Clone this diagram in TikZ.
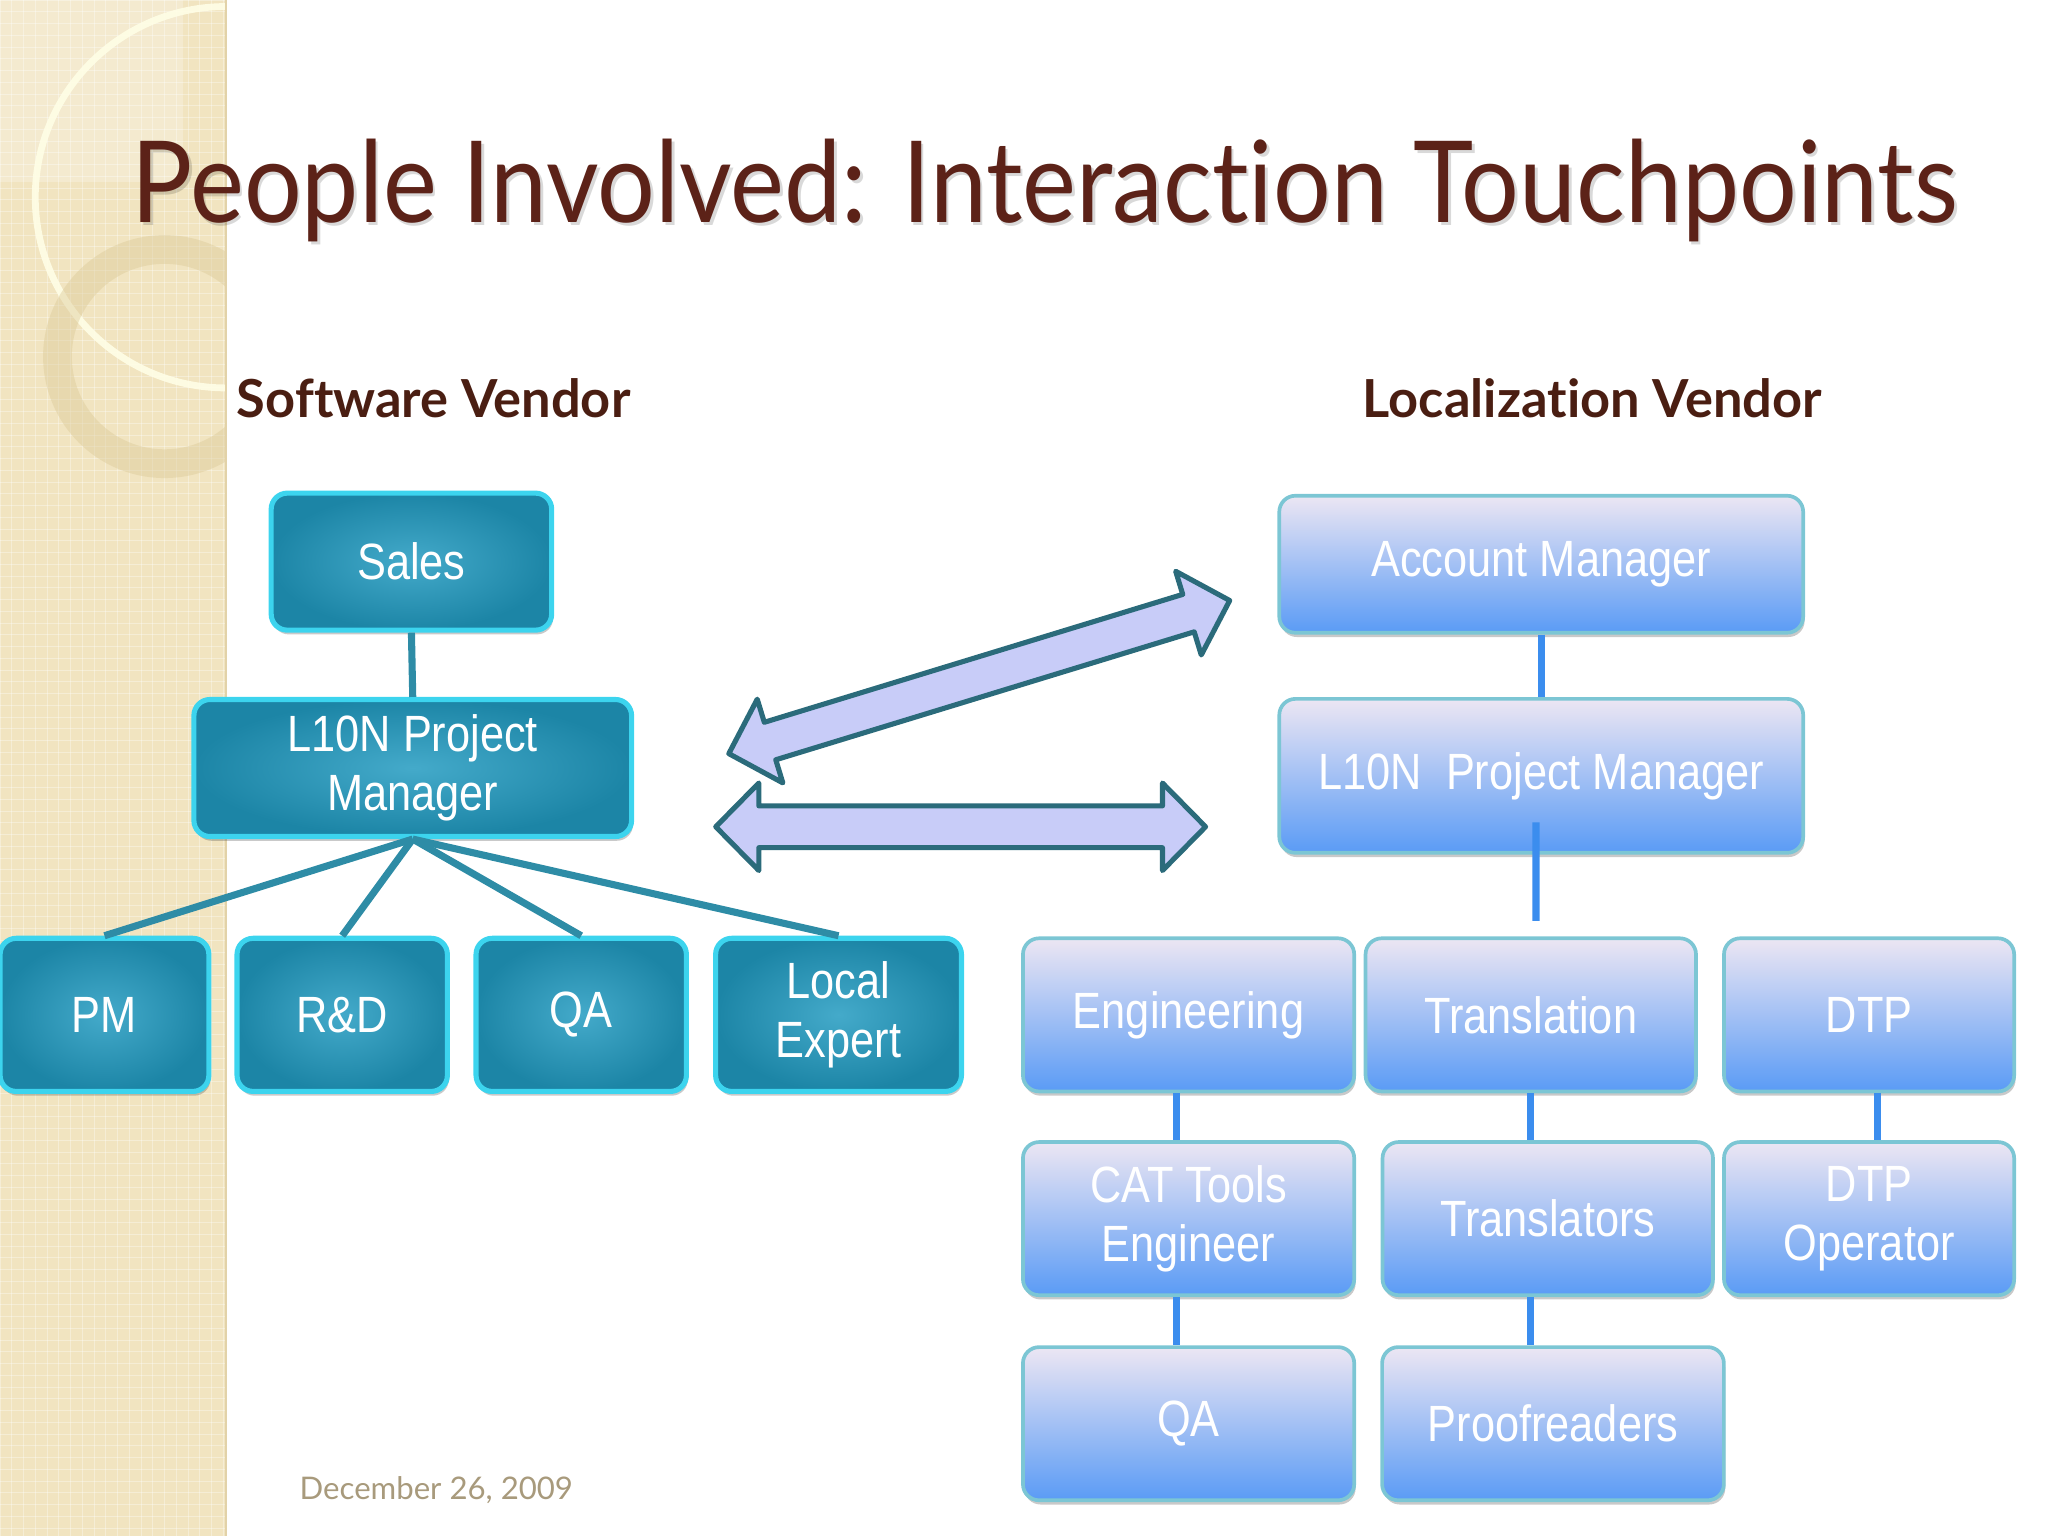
\documentclass[tikz,border=0pt]{standalone}
\usepackage{fontspec}
\setmainfont[Ligatures=NoCommon]{Lato}
\newfontfamily\titlefont[FakeStretch=0.9, Ligatures=NoCommon]{Lato}
\newfontfamily\boxfont[FakeStretch=0.85]{Liberation Sans}
\usetikzlibrary{shapes,arrows.meta,positioning,shadows}

\definecolor{titlebrown}{HTML}{5C2218}
\definecolor{headbrown}{HTML}{4A1E12}
\definecolor{stripbeige}{HTML}{F1E4C0}
\definecolor{stripedge}{HTML}{E2D2A8}
\definecolor{ringtan}{HTML}{DCCB9A}
\definecolor{tealin}{HTML}{44AACA}
\definecolor{tealout}{HTML}{1C85A6}
\definecolor{tealrim}{HTML}{3CD4EE}
\definecolor{tealline}{HTML}{2E8CA6}
\definecolor{bluetop}{HTML}{ECE6F3}
\definecolor{bluemid}{HTML}{94C4F6}
\definecolor{bluebot}{HTML}{5A9BF5}
\definecolor{bluerim}{HTML}{7CC6D4}
\definecolor{blueline}{HTML}{3B8DEE}
\definecolor{arrfill}{HTML}{C8CCF8}
\definecolor{arrdraw}{HTML}{2B6B7B}
\definecolor{datecol}{HTML}{A89A7C}

\tikzset{
  boxshadow/.style={drop shadow={shadow xshift=0.5pt, shadow yshift=-1.5pt, opacity=0.3, fill=black!70}},
  tealbox/.style={rectangle, rounded corners=0.2cm, inner color=tealin, outer color=tealout,
    draw=tealrim, line width=1.8pt, text=white, align=center, boxshadow,
    font=\boxfont\fontsize{18}{21}\selectfont},
  bluebox/.style={rectangle, rounded corners=0.2cm, top color=bluetop, middle color=bluemid,
    bottom color=bluebot, draw=bluerim, line width=1.3pt, text=white, align=center, boxshadow,
    font=\boxfont\fontsize{18}{21}\selectfont},
  tline/.style={draw=tealline, line width=2.5pt},
  bline/.style={draw=blueline, line width=2.5pt},
  blockarr/.style={fill=arrfill, draw=arrdraw, line width=1.8pt, line join=round},
  head/.style={font=\bfseries\fontsize{18.5}{22}\selectfont, text=headbrown, inner sep=0pt}
}

\begin{document}
\begin{tikzpicture}[x=0.0162cm, y=-0.0162cm]
\useasboundingbox (0,0) rectangle (1568,1176);

% Beige strip on the left
\fill[stripbeige] (0,0) rectangle (173,1176);
\foreach \k in {0,9,...,1176} {
  \draw[white, opacity=0.35, line width=0.3pt] (0,\k) -- (173,\k);
}
\foreach \k in {0,9,...,171} {
  \draw[white, opacity=0.35, line width=0.3pt] (\k,0) -- (\k,1176);
}
\begin{scope}
  \clip (0,0) rectangle (173,1176);
  \fill[white, opacity=0.25] (0,0) rectangle (140,139);
  \draw[white!90!yellow, line width=2.4pt, opacity=0.9] (173,151) circle (146);
  \fill[ringtan, opacity=0.45, even odd rule] (126,273) circle (93) (126,273) circle (71);
\end{scope}
\draw[stripedge, line width=1pt] (173,0) -- (173,1176);

% Title
\node[anchor=base, text=black, opacity=0.15, font=\titlefont\fontsize{40}{48}\selectfont] at (802,173)
  {People Involved: Interaction Touchpoints};
\node[anchor=base, text=titlebrown, font=\titlefont\fontsize{40}{48}\selectfont] (title) at (800,170)
  {People Involved: Interaction Touchpoints};

% Column headings
\node[head, anchor=base west] (swv) at (181,320) {Software Vendor};
\node[head, anchor=base west] (lzv) at (1043,320) {Localization Vendor};

% Software vendor side
\node[tealbox, minimum width=3.48cm, minimum height=1.70cm] (sales) at (315,430) {Sales};
\node[tealbox, minimum width=5.43cm, minimum height=1.70cm] (spm) at (316,588) {L10N Project\\Manager};
\node[tealbox, minimum width=2.59cm, minimum height=1.90cm] (pm) at (80,777) {PM};
\node[tealbox, minimum width=2.61cm, minimum height=1.90cm] (rnd) at (262,777) {R\&D};
\node[tealbox, minimum width=2.61cm, minimum height=1.90cm] (sqa) at (445,777) {QA};
\node[tealbox, minimum width=3.05cm, minimum height=1.90cm] (lex) at (642,777) {Local\\Expert};

\draw[tline] (sales.south) -- (spm.north);
\foreach \c in {pm,rnd,sqa,lex} {
  \draw[tline] (spm.south) -- (\c.north);
}

% Localization vendor side
\node[bluebox, minimum width=6.50cm, minimum height=1.70cm] (acm) at (1180,432) {Account Manager};
\node[bluebox, minimum width=6.50cm, minimum height=1.91cm] (vpm) at (1180,594) {L10N~~Project Manager};
\node[bluebox, minimum width=4.11cm, minimum height=1.90cm] (eng) at (910,777) {Engineering};
\node[bluebox, minimum width=4.10cm, minimum height=1.90cm] (trn) at (1172,777) {Translation};
\node[bluebox, minimum width=3.60cm, minimum height=1.90cm] (dtp) at (1431,777) {DTP};
\node[bluebox, minimum width=4.11cm, minimum height=1.90cm] (cat) at (910,933) {CAT Tools\\Engineer};
\node[bluebox, minimum width=4.10cm, minimum height=1.90cm] (trs) at (1185,933) {Translators};
\node[bluebox, minimum width=3.60cm, minimum height=1.90cm] (dop) at (1431,933) {DTP\\Operator};
\node[bluebox, minimum width=4.11cm, minimum height=1.90cm] (vqa) at (910,1090) {QA};
\node[bluebox, minimum width=4.24cm, minimum height=1.90cm] (prf) at (1189,1090) {Proofreaders};

\coordinate (vhub) at (1176,705);
\draw[bline] (acm.south) -- (vpm.north);
\draw[bline] ([xshift=-0.065cm, yshift=0.4cm]vpm.south) -- (vhub);
\draw[bline] ([xshift=-0.15cm]eng.south) -- ([xshift=-0.15cm]cat.north);
\draw[bline] ([xshift=-0.15cm]cat.south) -- ([xshift=-0.15cm]vqa.north);
\draw[bline] (trn.south) -- (trn.south |- trs.north);
\draw[bline] (trn.south |- trs.south) -- (trn.south |- prf.north);
\draw[bline] ([xshift=0.1cm]dtp.south) -- ([xshift=0.1cm]dop.north);

% Interaction arrows
\begin{scope}[shift={(558,577)}, rotate=17]
  \draw[blockarr] (0,0) -- (33,-33.5) -- (33,-15) -- (368,-15) -- (368,-33.5) -- (401,0)
    -- (368,33.5) -- (368,15) -- (33,15) -- (33,33.5) -- cycle;
\end{scope}
\draw[blockarr] (548,633) -- (581,599.5) -- (581,617) -- (890,617) -- (890,599.5) -- (923,633)
  -- (890,666.5) -- (890,649) -- (581,649) -- (581,666.5) -- cycle;

% Date
\node[anchor=base west, inner sep=0pt, text=datecol, font=\fontsize{11}{13}\selectfont] (date) at (229,1148) {December 26, 2009};
\end{tikzpicture}
\end{document}
